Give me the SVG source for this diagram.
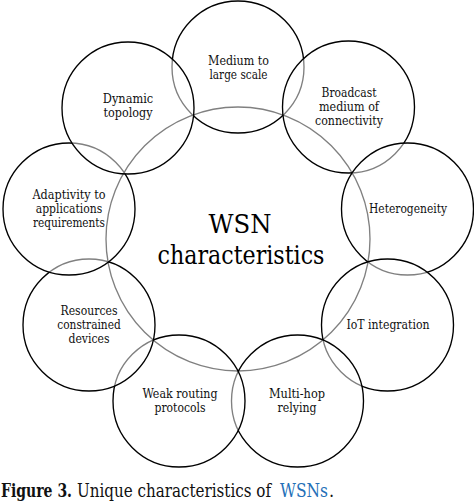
<svg xmlns="http://www.w3.org/2000/svg" width="474" height="504" viewBox="0 0 474 504">
<style>
.c{fill:#fff;fill-opacity:0.5;stroke:#000;stroke-width:1.35}
.t{font-family:'DejaVu Serif Condensed','DejaVu Serif',serif;font-size:12.5px;fill:#111;text-anchor:middle}
.big{font-family:'DejaVu Serif Condensed','DejaVu Serif',serif;font-size:26.5px;fill:#000;text-anchor:middle}
.cap{font-family:'DejaVu Serif Condensed','DejaVu Serif',serif;font-size:18px;fill:#111}
.cap.link{fill:#2470b8}
</style>
<rect width="474" height="504" fill="#fff"/>
<g id="center">
<circle cx="238" cy="239" r="132" fill="#fff" stroke="#000" stroke-width="1.35"/>
<text class="big" x="240" y="233" textLength="63" lengthAdjust="spacingAndGlyphs">WSN</text>
<text class="big" x="241" y="264" textLength="167" lengthAdjust="spacingAndGlyphs">characteristics</text>
</g>
<g id="connectors"></g>
<g id="medium">
<circle class="c" cx="238" cy="67" r="66"/>
<text class="t" x="238.5" y="64.5" textLength="61" lengthAdjust="spacingAndGlyphs">Medium to</text>
<text class="t" x="238.5" y="78.5" textLength="58" lengthAdjust="spacingAndGlyphs">large scale</text>
</g>
<g id="broadcast">
<circle class="c" cx="348.5" cy="107" r="66"/>
<text class="t" x="349" y="97" textLength="55" lengthAdjust="spacingAndGlyphs">Broadcast</text>
<text class="t" x="349" y="111" textLength="60" lengthAdjust="spacingAndGlyphs">medium of</text>
<text class="t" x="349" y="125" textLength="68" lengthAdjust="spacingAndGlyphs">connectivity</text>
</g>
<g id="heterogeneity">
<circle class="c" cx="407.5" cy="209" r="66"/>
<text class="t" x="408" y="213" textLength="78" lengthAdjust="spacingAndGlyphs">Heterogeneity</text>
</g>
<g id="iot">
<circle class="c" cx="387.5" cy="325" r="66"/>
<text class="t" x="388" y="329" textLength="83" lengthAdjust="spacingAndGlyphs">IoT integration</text>
</g>
<g id="multihop">
<circle class="c" cx="297.5" cy="401" r="66"/>
<text class="t" x="297" y="398" textLength="56" lengthAdjust="spacingAndGlyphs">Multi-hop</text>
<text class="t" x="297" y="412" textLength="39" lengthAdjust="spacingAndGlyphs">relying</text>
</g>
<g id="weak">
<circle class="c" cx="179" cy="401" r="66"/>
<text class="t" x="180" y="398" textLength="75" lengthAdjust="spacingAndGlyphs">Weak routing</text>
<text class="t" x="180" y="412" textLength="51" lengthAdjust="spacingAndGlyphs">protocols</text>
</g>
<g id="resources">
<circle class="c" cx="89" cy="325" r="66"/>
<text class="t" x="89" y="315" textLength="57" lengthAdjust="spacingAndGlyphs">Resources</text>
<text class="t" x="89" y="329" textLength="63.5" lengthAdjust="spacingAndGlyphs">constrained</text>
<text class="t" x="89" y="343" textLength="41" lengthAdjust="spacingAndGlyphs">devices</text>
</g>
<g id="adaptivity">
<circle class="c" cx="69" cy="209" r="66"/>
<text class="t" x="69" y="199" textLength="73" lengthAdjust="spacingAndGlyphs">Adaptivity to</text>
<text class="t" x="69" y="213" textLength="66.5" lengthAdjust="spacingAndGlyphs">applications</text>
<text class="t" x="69" y="227" textLength="72" lengthAdjust="spacingAndGlyphs">requirements</text>
</g>
<g id="dynamic">
<circle class="c" cx="128" cy="108" r="66"/>
<text class="t" x="128" y="103" textLength="50.5" lengthAdjust="spacingAndGlyphs">Dynamic</text>
<text class="t" x="128" y="117" textLength="49" lengthAdjust="spacingAndGlyphs">topology</text>
</g>
<g id="caption">
<text class="cap" x="1" y="497" font-weight="bold" textLength="71" lengthAdjust="spacingAndGlyphs">Figure 3.</text>
<text class="cap" x="77" y="497" textLength="194" lengthAdjust="spacingAndGlyphs">Unique characteristics of</text>
<text class="cap link" x="280" y="497" textLength="48" lengthAdjust="spacingAndGlyphs">WSNs</text>
<text class="cap" x="329" y="497">.</text>
</g>
</svg>
